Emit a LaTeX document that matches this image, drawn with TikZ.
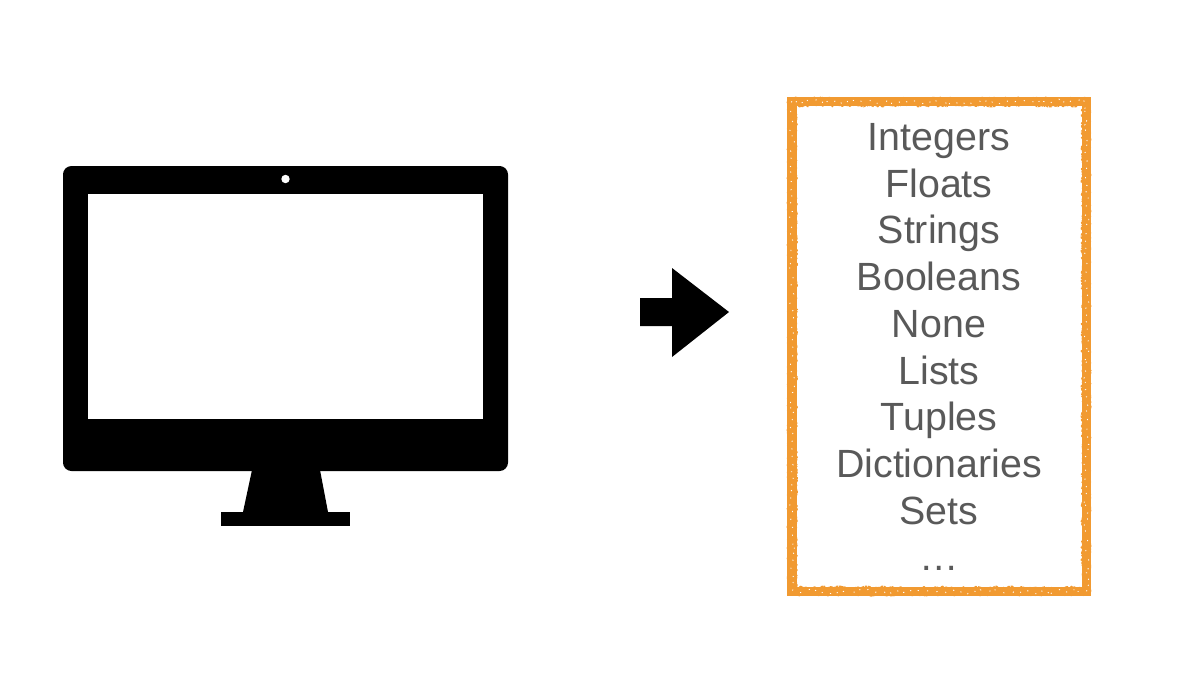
\documentclass[tikz,border=0pt]{standalone}
\usepackage{fontspec}
\setmainfont{Liberation Sans}
\usepackage{xcolor}
\usetikzlibrary{positioning, decorations.pathmorphing}
\definecolor{boxorange}{RGB}{241,154,49}
\definecolor{labelgray}{RGB}{89,89,89}

\begin{document}
\begin{tikzpicture}[
  x=0.025cm, y=-0.025cm,
  node distance=0pt,
  typelabel/.style={text=labelgray, font=\fontsize{28}{30}\selectfont, inner sep=0pt, outer sep=0pt,
                    minimum height=46.7*0.025cm, text height=0.7cm, text depth=0.2cm, align=center},
  solidshape/.style={fill=black, draw=none},
  chalk/.style={draw=boxorange, line join=miter},
  fuzz/.style={draw=boxorange, line width=1.4pt, line join=round, dash pattern=on 1.7pt off 0.5pt,
               decorate, decoration={random steps, segment length=1.3pt, amplitude=1.1pt}},
  speck/.style={draw=white, line width=0.6pt, line join=round, dash pattern=on 0.8pt off 7pt,
                decorate, decoration={random steps, segment length=1.5pt, amplitude=1.8pt}},
]
\useasboundingbox (0,0) rectangle (1200,687);

% monitor
\fill[solidshape, rounded corners=6pt] (63,166) rectangle (508,471);
\fill[white] (88,194) rectangle (483,419);
\fill[white] (285.5,179) circle (4.2);
\fill[solidshape] (252,470) -- (320,470) -- (328,512) -- (243,512) -- cycle;
\fill[solidshape] (221,512) rectangle (350,526);

% arrow
\fill[solidshape] (640,298) -- (672,298) -- (672,268) -- (729,312) -- (672,357) -- (672,326) -- (640,326) -- cycle;

% frame
\draw[chalk, line width=6.8pt] (792,101.5) rectangle (1086.5,591.5);
\draw[fuzz] (789,99) rectangle (1089,594);
\draw[fuzz] (795.5,105) rectangle (1083,588);
\draw[speck] (792,101.5) rectangle (1086.5,591.5);

\node[typelabel] (ints) at (939,140.5) {Integers};
\node[typelabel, below=of ints]   (floats)  {Floats};
\node[typelabel, below=of floats] (strs)    {Strings};
\node[typelabel, below=of strs]   (bools)   {Booleans};
\node[typelabel, below=of bools]  (none)    {None};
\node[typelabel, below=of none]   (lists)   {Lists};
\node[typelabel, below=of lists]  (tuples)  {Tuples};
\node[typelabel, below=of tuples] (dicts)   {Dictionaries};
\node[typelabel, below=of dicts]  (sets)    {Sets};
\node[typelabel, below=of sets]   (more)    {…};

\end{tikzpicture}
\end{document}
